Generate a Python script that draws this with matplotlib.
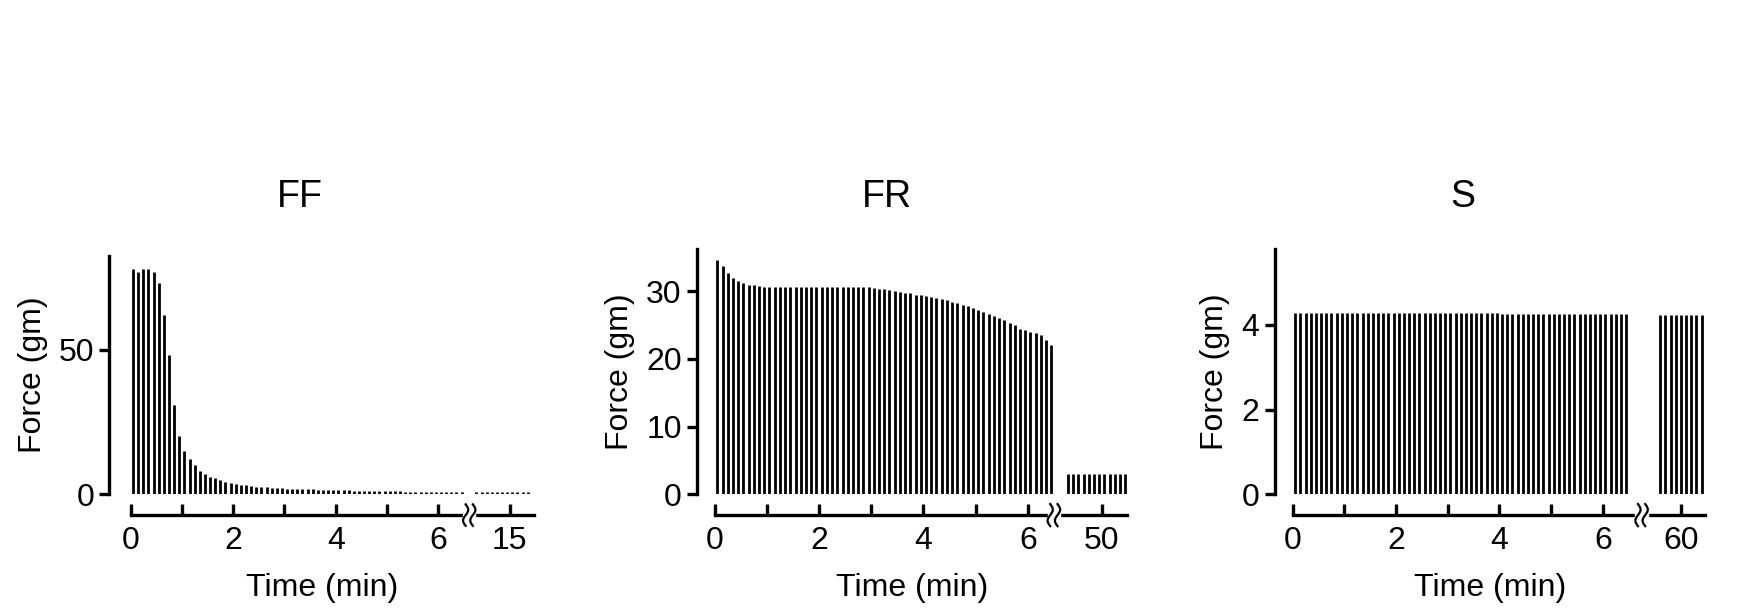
import numpy as np
import matplotlib
matplotlib.use("Agg")
import matplotlib.pyplot as plt
import matplotlib.transforms as mtransforms

plt.rcParams["font.family"] = ["Liberation Sans", "DejaVu Sans"]

# ---- data (force per contraction, gm) ----
ff_amps = [78, 77, 78, 78, 77, 73, 62, 48, 31, 20, 15, 12, 10, 8, 7, 6, 5.5, 5, 4.3, 3.8,
           3.5, 3.2, 3.0, 2.8, 2.6, 2.4, 2.3, 2.2, 2.1, 2.0, 1.9, 1.8, 1.8, 1.7, 1.6, 1.6,
           1.5, 1.5, 1.4, 1.4, 1.3, 1.3, 1.3, 1.2, 1.2, 1.2, 1.1, 1.1, 1.1, 1.0, 1.0, 1.0,
           1.0, 0.9, 0.9, 0.9, 0.9, 0.9, 0.8, 0.8, 0.8, 0.8, 0.8, 0.8, 0.8]
ff_late = [0.6, 0.6, 0.7, 0.6, 0.6, 0.7, 0.6, 0.7, 0.7, 0.7, 0.8]
fr_amps = [34.7, 33.7, 32.7, 32.0, 31.5, 31.2, 31.0, 30.9, 30.8, 30.7] + [30.6] * 20 + [
    30.5, 30.4, 30.3, 30.2, 30.0, 29.9, 29.8, 29.7, 29.5, 29.4, 29.3, 29.2, 29.0, 28.9,
    28.8, 28.5, 28.3, 28.0, 27.8, 27.5, 27.3, 27.0, 26.7, 26.4, 26.1, 25.8, 25.4, 25.0,
    24.5, 24.3, 24.0, 23.8, 23.5, 22.8, 22.0]
fr_late = [3.0] * 13
s_amps = [4.29] * 40 + [4.25] * 25
s_late = [4.24] * 10

titles = ["FF", "FR", "S"]
late_labels = [15, 50, 60]
late_start = [14.35, 49.35, 59.6]
late_pos = [7.39, 7.42, 7.51]      # plotted position of the late tick
break_pos = [6.6, 6.5, 6.75]
x_end = [7.87, 7.9, 7.97]
ymax = [82.6, 36.3, 5.8]
yticks = [[0, 50], [0, 10, 20, 30], [0, 2, 4]]
main = [ff_amps, fr_amps, s_amps]
late = [ff_late, fr_late, s_late]

W, H = 1738, 610
fig = plt.figure(figsize=(W / 100, H / 100), dpi=100)
rects = [(0.063, 0.190, 0.2445, 0.391),
         (0.401, 0.190, 0.2474, 0.402),
         (0.7334, 0.190, 0.2474, 0.402)]
x_left = [-0.41, -0.34, -0.35]
offset_px = 21

for k in range(3):
    ax = fig.add_axes(rects[k])
    t = 0.05 + 0.1 * np.arange(len(main[k]))
    ax.vlines(t, 0, main[k], color="black", lw=2.0)
    tl = late_start[k] + 0.1 * np.arange(len(late[k]))
    xl = late_pos[k] + (tl - late_labels[k])
    ax.vlines(xl, 0, late[k], color="black", lw=2.0)

    ax.set_xlim(x_left[k], x_end[k])
    ax.set_ylim(0, ymax[k])
    for s in ["top", "right"]:
        ax.spines[s].set_visible(False)
    ax.spines["left"].set_linewidth(2.4)
    ax.spines["bottom"].set_linewidth(2.4)
    ax.spines["left"].set_bounds(0, ymax[k])
    ax.spines["bottom"].set_position(("outward", offset_px * 0.72))
    ax.spines["bottom"].set_bounds(0, x_end[k])

    ax.set_yticks(yticks[k])
    ax.tick_params(axis="y", direction="out", length=7, width=2.4, labelsize=23, pad=4)
    ticks = list(range(7)) + [late_pos[k]]
    ax.set_xticks(ticks)
    ax.set_xticklabels(["0", "", "2", "", "4", "", "6", str(late_labels[k])])
    ax.tick_params(axis="x", direction="in", length=8, width=2.4, labelsize=23, pad=8)

    ax.set_ylabel("Force (gm)", fontsize=23, labelpad=8)
    ax.set_xlabel("Time (min)", fontsize=23, labelpad=12)
    cx = rects[k][0] + rects[k][2] * (0 - x_left[k] + 3.3) / (x_end[k] - x_left[k])
    fig.text(cx, 1 - 197 / H, titles[k], fontsize=27, ha="center", va="center")

    # break marks on the x axis
    h_px = rects[k][3] * H
    yb = -offset_px / h_px
    trans = mtransforms.blended_transform_factory(ax.transData, ax.transAxes)
    ax.fill_between([break_pos[k] - 0.12, break_pos[k] + 0.12], yb - 0.02, yb + 0.02,
                    color="white", transform=trans, clip_on=False, zorder=5)
    ss = np.linspace(-1, 1, 30)
    for dx in (-0.07, 0.07):
        ax.plot(break_pos[k] + dx + 0.05 * np.sin(ss * np.pi), yb + ss * 0.045,
                color="black", lw=1.6, transform=trans, clip_on=False, zorder=6)

fig.savefig("out.png", dpi=100, facecolor="white")
